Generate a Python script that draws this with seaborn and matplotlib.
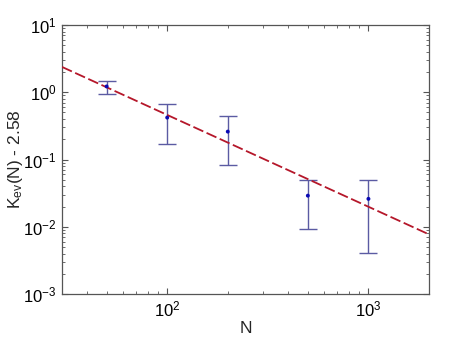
import numpy as np
import pandas as pd
import matplotlib
matplotlib.use("Agg")
import matplotlib.pyplot as plt
import seaborn as sns
from matplotlib.ticker import LogLocator, NullFormatter, FuncFormatter

# Data
N_vals = [50, 100, 200, 500, 1000]
K_vals = [1.22, 0.42, 0.26, 0.029, 0.026]
K_upper = [1.48, 0.66, 0.44, 0.050, 0.049]
K_lower = [0.93, 0.17, 0.082, 0.0094, 0.0041]
fit_N = [30, 2000]
fit_K = [2.38, 0.0077]

sns.set_style("ticks")
plt.rcParams['font.family'] = ['Liberation Sans', 'DejaVu Sans']
plt.rcParams['mathtext.fontset'] = 'custom'
plt.rcParams['mathtext.rm'] = 'Liberation Sans'
plt.rcParams['mathtext.it'] = 'Liberation Sans'

fig = plt.figure(figsize=(4.74, 3.38), dpi=100)
ax = fig.add_axes([62/474, 1-294/338, (429-62)/474, (294-25)/338])

df = pd.DataFrame({"N": N_vals, "K": K_vals, "hi": K_upper, "lo": K_lower})
fit_df = pd.DataFrame({"N": fit_N, "K": fit_K})

ax.set_xscale("log")
ax.set_yscale("log")

yerr = [df["K"] - df["lo"], df["hi"] - df["K"]]
ax.errorbar(df["N"], df["K"], yerr=yerr, fmt="none", ecolor="#5b5ba3",
            elinewidth=1.0, capsize=6.5, capthick=1.0, zorder=2)
sns.lineplot(data=fit_df, x="N", y="K", ax=ax, color="#b5172a",
             linestyle=(0, (6, 2)), linewidth=1.3, zorder=3)
sns.scatterplot(data=df, x="N", y="K", ax=ax, color="#0a0ab4", s=8,
                edgecolor="none", zorder=4)

ax.set_xlim(30, 2000)
ax.set_ylim(1e-3, 10)

ax.set_xlabel("N", fontsize=12.5, labelpad=1)
ax.set_ylabel(r"K$_{\mathrm{ev}}$(N) - 2.58", fontsize=12.5)
ax.yaxis.set_label_coords((25 - 62) / 367, 0.5)

def fmt(v, pos):
    e = int(round(np.log10(v)))
    return r"10$^{%d}$" % e

ax.xaxis.set_major_formatter(FuncFormatter(fmt))
ax.yaxis.set_major_formatter(FuncFormatter(fmt))

for s in ax.spines.values():
    s.set_color("#555555")
    s.set_linewidth(0.9)
ax.yaxis.set_minor_locator(LogLocator(base=10, subs=np.arange(2, 10)))
ax.xaxis.set_minor_locator(LogLocator(base=10, subs=np.arange(2, 10)))
ax.yaxis.set_minor_formatter(NullFormatter())
ax.xaxis.set_minor_formatter(NullFormatter())
ax.tick_params(which="both", direction="in", top=True, right=True,
               colors="#555555", labelcolor="black", labelsize=12)
ax.tick_params(which="major", length=4, width=0.8, pad=4)
ax.tick_params(which="minor", length=2.5, width=0.6)

fig.savefig("out.png", dpi=100)
